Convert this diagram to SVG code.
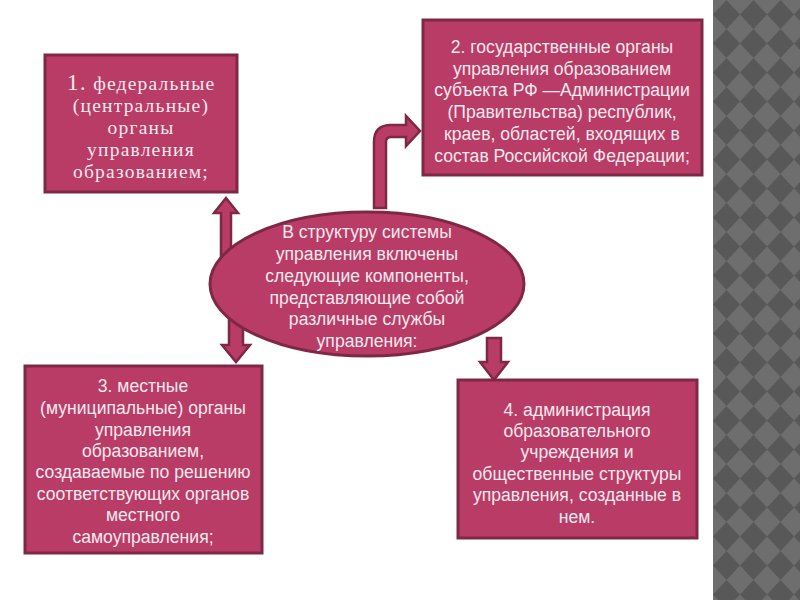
<svg xmlns="http://www.w3.org/2000/svg" width="800" height="600" viewBox="0 0 800 600">
<defs>
<pattern id="diam" x="713" y="0" width="27" height="29" patternUnits="userSpaceOnUse">
<rect width="27" height="29" fill="#6e6e6e"/>
<polygon points="13.5,0 27,14.5 13.5,29 0,14.5" fill="#585858"/>
</pattern>
<style>
.box{fill:#b83c66;stroke:#7e2846;stroke-width:3}
.arr{fill:#b83c66;stroke:#7e2846;stroke-width:2.5;stroke-linejoin:miter}
.t{font-family:"Liberation Sans",Arial,sans-serif;font-size:17.6px;fill:#f7e8ee;text-anchor:middle}
.s{font-family:"Liberation Serif","Times New Roman",serif;font-size:19.5px;fill:#f7e8ee;text-anchor:middle;letter-spacing:1.2px}
</style>
</defs>
<rect width="800" height="600" fill="#ffffff"/>
<rect x="713" y="0" width="87" height="600" fill="url(#diam)"/>

<g id="connectors">
<path class="arr" d="M374,214 L374,148 Q374,131 391,131 L406,131 L406,122 L420,137 L406,152 L406,143 L391,143 Q386,143 386,148 L386,214 Z" transform="translate(0,-6)"/>
<path class="arr" d="M221,258 L221,213 L214,213 L226,198 L238,213 L231,213 L231,258 Z"/>
<path class="arr" d="M229,310 L243,310 L243,345 L250,345 L236,362 L222,345 L229,345 Z"/>
<path class="arr" d="M487,338 L501,338 L501,362 L508,362 L494,380 L480,362 L487,362 Z"/>
</g>

<g id="center">
<ellipse cx="367" cy="284" rx="157" ry="72" class="box"/>
<text class="t" x="367" y="238">В структуру системы</text>
<text class="t" x="367" y="260">управления включены</text>
<text class="t" x="367" y="282">следующие компоненты,</text>
<text class="t" x="367" y="304">представляющие собой</text>
<text class="t" x="367" y="325">различные службы</text>
<text class="t" x="367" y="347">управления:</text>
</g>

<g id="n1">
<rect x="45" y="55" width="192" height="137" class="box"/>
<text class="s" x="141" y="90"><tspan font-size="24px">1.</tspan> федеральные</text>
<text class="s" x="141" y="112">(центральные)</text>
<text class="s" x="141" y="134">органы</text>
<text class="s" x="141" y="156">управления</text>
<text class="s" x="141" y="178">образованием;</text>
</g>

<g id="n2">
<rect x="423" y="20" width="279" height="155" class="box"/>
<text class="t" x="562" y="53">2. государственные органы</text>
<text class="t" x="562" y="75">управления образованием</text>
<text class="t" x="562" y="96">субъекта РФ —Администрации</text>
<text class="t" x="562" y="118">(Правительства) республик,</text>
<text class="t" x="562" y="140">краев, областей, входящих в</text>
<text class="t" x="562" y="162">состав Российской Федерации;</text>
</g>

<g id="n3">
<rect x="25" y="366" width="237" height="187" class="box"/>
<text class="t" x="143" y="392">3. местные</text>
<text class="t" x="143" y="414">(муниципальные) органы</text>
<text class="t" x="143" y="436">управления</text>
<text class="t" x="143" y="457">образованием,</text>
<text class="t" x="143" y="478">создаваемые по решению</text>
<text class="t" x="143" y="500">соответствующих органов</text>
<text class="t" x="143" y="521">местного</text>
<text class="t" x="143" y="543">самоуправления;</text>
</g>

<g id="n4">
<rect x="458" y="380" width="239" height="158" class="box"/>
<text class="t" x="577" y="416">4. администрация</text>
<text class="t" x="577" y="437">образовательного</text>
<text class="t" x="577" y="458">учреждения и</text>
<text class="t" x="577" y="480">общественные структуры</text>
<text class="t" x="577" y="501">управления, созданные в</text>
<text class="t" x="577" y="523">нем.</text>
</g>
</svg>
